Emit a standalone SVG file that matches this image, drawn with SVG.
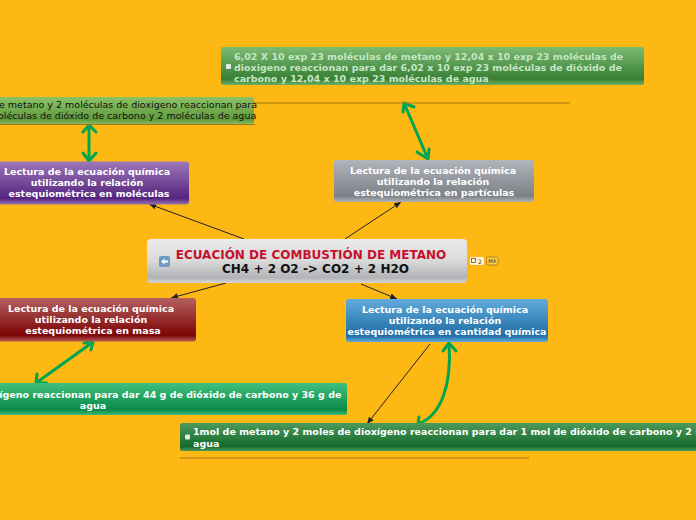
<svg xmlns="http://www.w3.org/2000/svg" width="696" height="520" viewBox="0 0 696 520">
<defs>
<linearGradient id="gc" x1="0" y1="0" x2="0" y2="1"><stop offset="0" stop-color="#ebebeb"/><stop offset=".5" stop-color="#d9d9d9"/><stop offset=".88" stop-color="#b2b3b6"/><stop offset="1" stop-color="#d6d6d8"/></linearGradient>
<linearGradient id="gp" x1="0" y1="0" x2="0" y2="1"><stop offset="0" stop-color="#9d78b8"/><stop offset=".86" stop-color="#55247f"/><stop offset="1" stop-color="#9a74b4"/></linearGradient>
<linearGradient id="gg" x1="0" y1="0" x2="0" y2="1"><stop offset="0" stop-color="#b1b4ba"/><stop offset=".86" stop-color="#7c8188"/><stop offset="1" stop-color="#b0b3b8"/></linearGradient>
<linearGradient id="gr" x1="0" y1="0" x2="0" y2="1"><stop offset="0" stop-color="#b46060"/><stop offset=".86" stop-color="#7d0505"/><stop offset="1" stop-color="#b45c5c"/></linearGradient>
<linearGradient id="gb" x1="0" y1="0" x2="0" y2="1"><stop offset="0" stop-color="#62aadb"/><stop offset=".86" stop-color="#1f6ea6"/><stop offset="1" stop-color="#62aadb"/></linearGradient>
<linearGradient id="gt" x1="0" y1="0" x2="0" y2="1"><stop offset="0" stop-color="#7dbb74"/><stop offset=".84" stop-color="#387f35"/><stop offset="1" stop-color="#6cae63"/></linearGradient>
<linearGradient id="gl" x1="0" y1="0" x2="0" y2="1"><stop offset="0" stop-color="#8cc265"/><stop offset=".84" stop-color="#5f9a3c"/><stop offset="1" stop-color="#86bb5e"/></linearGradient>
<linearGradient id="gm" x1="0" y1="0" x2="0" y2="1"><stop offset="0" stop-color="#3fc07d"/><stop offset=".84" stop-color="#0a8a48"/><stop offset="1" stop-color="#3fbb78"/></linearGradient>
<linearGradient id="gd" x1="0" y1="0" x2="0" y2="1"><stop offset="0" stop-color="#4d9a5c"/><stop offset=".84" stop-color="#156a2d"/><stop offset="1" stop-color="#4d9a5c"/></linearGradient>
<marker id="a" viewBox="0 0 8 8" refX="7" refY="4" markerWidth="8" markerHeight="8" markerUnits="userSpaceOnUse" orient="auto"><path d="M0 1 L7 4 L0 7 Z" fill="#222"/></marker>
</defs>
<style>
text{font-family:"DejaVu Sans","Liberation Sans",sans-serif;font-weight:700;font-size:9.5px;fill:#fff;text-anchor:middle}
.s{text-anchor:start}
.k{fill:#111;font-weight:400}
.p{fill:#c6e6c4}
.t{font-size:12px}
.c{fill:none;stroke:#00a651;stroke-width:3;stroke-linecap:round;stroke-linejoin:round}
.b{fill:none;stroke:#222;stroke-width:1}
.u{stroke:#a8751a;stroke-width:1.2}
</style>
<rect width="696" height="520" fill="#fdb813"/>
<g id="connectors">
<path class="b" marker-end="url(#a)" d="M244 239 L149 204"/>
<path class="b" marker-end="url(#a)" d="M345 239 L401 202"/>
<path class="b" marker-end="url(#a)" d="M226 283 L171 298"/>
<path class="b" marker-end="url(#a)" d="M361 284 L397 299"/>
<path class="b" marker-end="url(#a)" d="M430 344 L367 424"/>
<path class="c" d="M89 125 L89 161 M83 132 L89 125 L96 132 M83 153 L89 161 L96 153"/>
<path class="c" d="M404 103 L428 159 M403 112 L404 103 L414 107 M417 152 L428 159 L429 149"/>
<path class="c" d="M93 342 L36 383 M84 343 L93 342 L91 350 M37 374 L36 383 L47 383"/>
<path class="c" d="M449 343 C452 385 441 416 418 424 M443 351 L449 343 L456 351 M419 417 L418 424 L426 425"/>
<path class="u" d="M254 103 L570 103"/>
<path class="u" d="M0 124.500 L255 124.500"/>
<path class="u" d="M180 458 L529 458"/>
</g>
<g id="node-top">
<rect x="221" y="47" width="423" height="38" rx="2" fill="url(#gt)"/>
<rect x="226" y="64" width="5" height="5" rx="1" fill="#e8e8e8"/>
<text class="s p" x="234" y="59.500">6,02 X 10 exp 23 moléculas de metano y 12,04 x 10 exp 23 moléculas de</text>
<text class="s p" x="234" y="70.500">dioxigeno reaccionan para dar 6,02 x 10 exp 23 moléculas de dióxido de</text>
<text class="s p" x="234" y="81.500">carbono y 12,04 x 10 exp 23 moléculas de agua</text>
</g>
<g id="node-left">
<rect x="-10" y="97" width="264" height="27" rx="2" fill="url(#gl)"/>
<text class="s k" x="-1" y="108">e metano y 2 moléculas de dioxígeno reaccionan para</text>
<text class="s k" x="-2" y="119">oléculas de dióxido de carbono y 2 moléculas de agua</text>
</g>
<g id="node-moleculas">
<rect x="-10" y="161.500" width="199" height="43" rx="3" fill="url(#gp)"/>
<text x="87" y="175">Lectura de la ecuación química</text>
<text x="87" y="186">utilizando la relación</text>
<text x="89" y="197">estequiométrica en moléculas</text>
</g>
<g id="node-particulas">
<rect x="334" y="160" width="200" height="42" rx="3" fill="url(#gg)"/>
<text x="433" y="174">Lectura de la ecuación química</text>
<text x="433" y="185">utilizando la relación</text>
<text x="434" y="196">estequiométrica en partículas</text>
</g>
<g id="node-central">
<rect x="147" y="239" width="320" height="44" rx="4" fill="url(#gc)"/>
<rect x="159" y="256" width="11" height="11" rx="2" fill="#6d9cc4"/>
<path d="M161 261.500 L164.500 258.500 V260.500 H168 V262.500 H164.500 V264.500 Z" fill="#fff"/>
<text x="311" y="258.500" class="t" style="fill:#c8102e">ECUACIÓN DE COMBUSTIÓN DE METANO</text>
<text x="315.500" y="273" class="t" style="fill:#111">CH4 + 2 O2  -&gt; CO2 + 2 H2O</text>
</g>
<g id="node-badges">
<rect x="470" y="257" width="14" height="8" rx="1.500" fill="#fff3d6"/>
<rect x="471.500" y="258.500" width="4" height="4" fill="none" stroke="#555" stroke-width=".8"/>
<text x="480" y="263.500" style="font-size:6px;fill:#333;font-weight:400">2</text>
<rect x="486.500" y="257" width="11.500" height="8" rx="1.500" fill="#fdc94a" stroke="#a8751a" stroke-width=".8"/>
<text x="492.200" y="263" style="font-size:5px;fill:#333;font-weight:400">MA</text>
</g>
<g id="node-masa">
<rect x="-10" y="298" width="206" height="43.500" rx="3" fill="url(#gr)"/>
<text x="91" y="312">Lectura de la ecuación química</text>
<text x="91" y="323">utilizando la relación</text>
<text x="93" y="334">estequiométrica en masa</text>
</g>
<g id="node-cantidad">
<rect x="346" y="299" width="202" height="43" rx="3" fill="url(#gb)"/>
<text x="445" y="313">Lectura de la ecuación química</text>
<text x="445" y="324">utilizando la relación</text>
<text x="447" y="335">estequiométrica en cantidad química</text>
</g>
<g id="node-gramos">
<rect x="-10" y="383" width="357" height="32" rx="2" fill="url(#gm)"/>
<text x="164" y="397.500">oxígeno reaccionan para dar 44 g de dióxido de carbono y 36 g de</text>
<text x="93" y="408.500">agua</text>
</g>
<g id="node-moles">
<rect x="180" y="423" width="530" height="28" rx="2" fill="url(#gd)"/>
<rect x="185" y="434.500" width="5" height="5" rx="1" fill="#e8e8e8"/>
<text class="s" x="193" y="435">1mol de metano y 2 moles de dioxígeno reaccionan para dar 1 mol de dióxido de carbono y 2 moles</text>
<text class="s" x="193" y="446.500">agua</text>
</g>
</svg>
